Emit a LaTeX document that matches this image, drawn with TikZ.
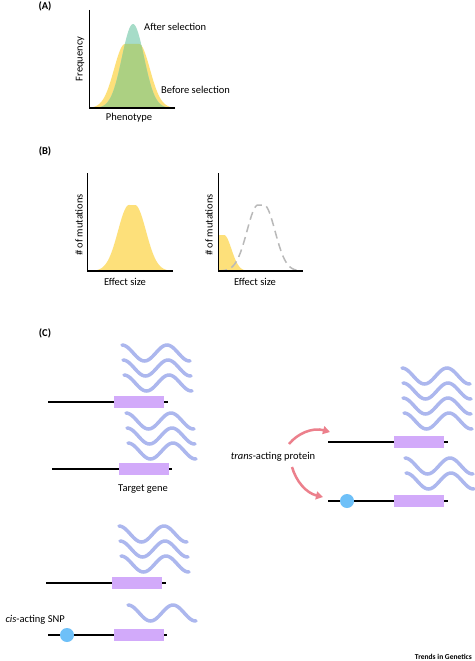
\documentclass[tikz,border=0pt]{standalone}
\usepackage{fontspec}
\setmainfont{Carlito}
\usetikzlibrary{arrows.meta}
\definecolor{ylw}{RGB}{253,224,122}
\definecolor{mint}{RGB}{166,220,200}
\definecolor{ovl}{RGB}{172,208,130}
\definecolor{wavec}{RGB}{172,183,238}
\definecolor{exonc}{RGB}{210,170,250}
\definecolor{snpc}{RGB}{110,192,248}
\definecolor{arrc}{RGB}{236,128,140}
\definecolor{dashc}{RGB}{185,185,185}
\tikzset{
  lbl/.style={inner sep=0pt, font=\fontsize{10.5}{12}\selectfont},
  plabel/.style={inner sep=0pt, font=\fontsize{10.5}{12}\selectfont\bfseries},
  axisline/.style={line width=1.8pt, black},
  dna/.style={line width=1.3pt, black},
  exon/.style={rectangle, fill=exonc, draw=none, minimum width=50pt, minimum height=12pt, inner sep=0pt},
  snp/.style={circle, fill=snpc, draw=none, minimum size=14pt, inner sep=0pt},
  wv/.style={line width=3.5pt, wavec, line cap=round},
  parrow/.style={line width=2.5pt, arrc, -{Triangle[length=7pt,width=8pt]}},
  wave/.pic={\draw[wv] plot[domain=0:68,samples=40,smooth] (\x,{-8*cos(8*\x)});}
}
\begin{document}
\begin{tikzpicture}[x=1pt,y=-1pt]
\useasboundingbox (0,0) rectangle (474,661);
\fill[white] (0,0) rectangle (474,661);

% ---------- Panel A ----------
\node[plabel] (pA) at (45,6) {(A)};
\fill[ylw] plot[domain=89:175,samples=80,smooth] (\x,{108-64*exp(-1*pow(max(abs(\x-132)-7,0),2)/240)}) -- (175,108) -- (89,108) -- cycle;
\fill[mint] plot[domain=89:175,samples=80,smooth] (\x,{108-84*exp(-1*pow(\x-133,2)/242)}) -- (175,108) -- (89,108) -- cycle;
\begin{scope}
\clip plot[domain=89:175,samples=80,smooth] (\x,{108-64*exp(-1*pow(max(abs(\x-132)-7,0),2)/240)}) -- (175,108) -- (89,108) -- cycle;
\fill[ovl] plot[domain=89:175,samples=80,smooth] (\x,{108-84*exp(-1*pow(\x-133,2)/242)}) -- (175,108) -- (89,108) -- cycle;
\end{scope}
\draw[axisline] (89.5,10) -- (89.5,108) -- (175,108);
\node[lbl, rotate=90] (freq) at (80,59) {Frequency};
\node[lbl] (phen) at (129,118) {Phenotype};
\node[lbl, anchor=west] (after) at (144,27) {After selection};
\node[lbl, anchor=west] (before) at (161,90) {Before selection};

% ---------- Panel B ----------
\node[plabel] (pB) at (45,151) {(B)};
\fill[ylw] plot[domain=88:173,samples=80,smooth] (\x,{271-66*exp(-1*pow(max(abs(\x-132)-3,0),2)/242)}) -- (173,271) -- (88,271) -- cycle;
\draw[axisline] (87.5,173) -- (87.5,271) -- (173,271);
\node[lbl, rotate=90] (nm1) at (79,225) {\# of mutations};
\node[lbl] (es1) at (125,282) {Effect size};

\fill[ylw] plot[domain=218:250,samples=50,smooth] (\x,{271-36*exp(-1*pow(max(abs(\x-218)-6,0),2)/112)}) -- (250,271) -- (218,271) -- cycle;
\draw[dashc, line width=1.5pt, dash pattern=on 8pt off 5pt] plot[domain=219:300,samples=80,smooth] (\x,{271-66*exp(-1*pow(max(abs(\x-261)-3,0),2)/242)});
\draw[axisline] (218.5,173) -- (218.5,271) -- (303,271);
\node[lbl, rotate=90] (nm2) at (209,225) {\# of mutations};
\node[lbl] (es2) at (255,282) {Effect size};

% ---------- Panel C ----------
\node[plabel] (pC) at (45,333) {(C)};

% gene 1
\pic at (122,353) {wave};
\pic at (123,368) {wave};
\pic at (124,383) {wave};
\coordinate (g1l) at (48,402); \coordinate (g1r) at (168,402);
\draw[dna] (g1l) -- (g1r);
\node[exon] (x1) at (139,402) {};

% gene 2
\pic at (126,421) {wave};
\pic at (127,436) {wave};
\pic at (128,451) {wave};
\coordinate (g2l) at (52,469); \coordinate (g2r) at (172,469);
\draw[dna] (g2l) -- (g2r);
\node[exon] (x2) at (143.5,469) {};
\node[lbl] (tg) at (143,489) {Target gene};

% gene 3
\pic at (119,534) {wave};
\pic at (120,549) {wave};
\pic at (121,564) {wave};
\coordinate (g3l) at (46,583); \coordinate (g3r) at (166,583);
\draw[dna] (g3l) -- (g3r);
\node[exon] (x3) at (137,583) {};

% gene 4
\pic at (128,613) {wave};
\coordinate (g4l) at (48,635); \coordinate (g4r) at (167,635);
\draw[dna] (g4l) -- (g4r);
\node[exon] (x4) at (139,635) {};
\node[snp] (s4) at (67,635) {};
\node[lbl, anchor=east] (cis) at (65,620) {\textit{cis}-acting SNP};

% gene 5
\pic at (402,376) {wave};
\pic at (403,391) {wave};
\pic at (403,406) {wave};
\pic at (404,421) {wave};
\coordinate (g5l) at (328,442); \coordinate (g5r) at (448,442);
\draw[dna] (g5l) -- (g5r);
\node[exon] (x5) at (419,442) {};

% gene 6
\pic at (405,466) {wave};
\pic at (406,481) {wave};
\coordinate (g6l) at (328,501); \coordinate (g6r) at (448,501);
\draw[dna] (g6l) -- (g6r);
\node[exon] (x6) at (419,501) {};
\node[snp] (s6) at (347,501) {};

% trans-acting protein
\node[lbl] (tp) at (273,457) {\textit{trans}-acting protein};
\coordinate (a1s) at (289,444); \coordinate (a1e) at (330,432);
\coordinate (a2s) at (292,467); \coordinate (a2e) at (323,497);
\draw[parrow] (a1s) .. controls (297,434) and (312,427) .. (a1e);
\draw[parrow] (a2s) .. controls (296,481) and (306,493) .. (a2e);

\node[inner sep=0pt, anchor=east, font=\fontsize{7.5}{8}\selectfont\bfseries] (tig) at (472,657) {Trends in Genetics};
\end{tikzpicture}
\end{document}
